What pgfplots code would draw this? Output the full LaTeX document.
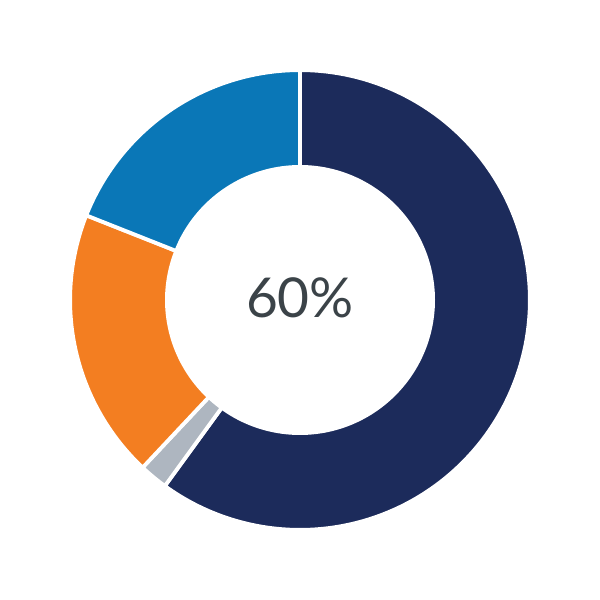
\documentclass[border=0pt]{standalone}
\usepackage{pgfplots}
\usepackage{pgfplotstable}
\pgfplotsset{compat=1.18}
\usepackage{fontspec}
\setmainfont{Lato}
\definecolor{cNavy}{HTML}{1C2B5B}
\definecolor{cBlue}{HTML}{0A77B7}
\definecolor{cOrange}{HTML}{F37E21}
\definecolor{cGray}{HTML}{AEB6C0}
\definecolor{cText}{HTML}{3B4348}
\pgfplotstableread{
label share
navy 60
gray 2
orange 19
blue 19
}\shares
\begin{document}
\begin{tikzpicture}
\pgfplotstablegetelem{0}{share}\of\shares \let\sA\pgfplotsretval
\pgfplotstablegetelem{1}{share}\of\shares \let\sB\pgfplotsretval
\pgfplotstablegetelem{2}{share}\of\shares \let\sC\pgfplotsretval
\pgfplotstablegetelem{3}{share}\of\shares \let\sD\pgfplotsretval
\pgfmathsetmacro\aA{90-3.6*\sA}
\pgfmathsetmacro\aB{\aA-3.6*\sB}
\pgfmathsetmacro\aC{\aB-3.6*\sC}
\pgfmathsetmacro\aD{\aC-3.6*\sD}
\def\Ro{229.9}
\def\Ri{135}
\begin{axis}[
  width=600pt, height=600pt, scale only axis,
  xmin=-300, xmax=300, ymin=-300, ymax=300,
  hide axis, clip=false,
]
\path (rel axis cs:0,0) rectangle (rel axis cs:1,1);
\addplot[fill=cNavy, draw=white, line width=3.8pt, domain=\aA:90, samples=200, variable=\t]
  ({\Ro*cos(\t)},{\Ro*sin(\t)}) -- (axis cs:0,0) -- cycle;
\addplot[fill=cGray, draw=white, line width=3.8pt, domain=\aB:\aA, samples=20, variable=\t]
  ({\Ro*cos(\t)},{\Ro*sin(\t)}) -- (axis cs:0,0) -- cycle;
\addplot[fill=cOrange, draw=white, line width=3.8pt, domain=\aC:\aB, samples=80, variable=\t]
  ({\Ro*cos(\t)},{\Ro*sin(\t)}) -- (axis cs:0,0) -- cycle;
\addplot[fill=cBlue, draw=white, line width=3.8pt, domain=\aD:\aC, samples=80, variable=\t]
  ({\Ro*cos(\t)},{\Ro*sin(\t)}) -- (axis cs:0,0) -- cycle;
\addplot[fill=white, draw=none, domain=0:360, samples=200, variable=\t]
  ({\Ri*cos(\t)},{\Ri*sin(\t)}) -- cycle;
\node[anchor=base, text=cText, font=\fontsize{55}{58}\selectfont] at (axis cs:0,-18) {60\%};
\end{axis}
\end{tikzpicture}
\end{document}
